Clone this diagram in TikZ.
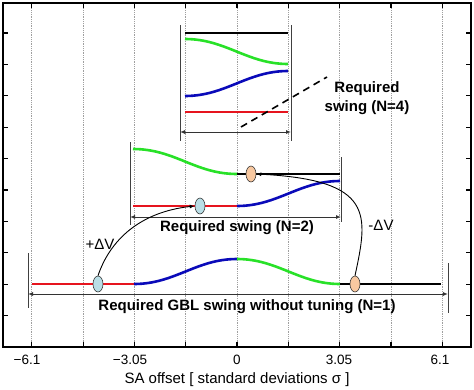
\documentclass[tikz,border=0pt]{standalone}
\usepackage{fontspec}
\setmainfont{Liberation Sans}
\usetikzlibrary{shapes.geometric,arrows.meta}
\definecolor{cgreen}{RGB}{40,225,40}
\definecolor{cblue}{RGB}{10,10,185}
\definecolor{cred}{RGB}{230,20,30}
\definecolor{lblue}{RGB}{185,222,230}
\definecolor{lorange}{RGB}{248,200,160}
\begin{document}
\begin{tikzpicture}[x=1pt,y=-1pt,
  gridline/.style={gray!75, densely dotted, line width=0.8pt},
  lvl/.style={line width=2.6pt},
  barline/.style={line width=0.8pt, black!75},
  spanline/.style={line width=1pt, black!80, {Latex[length=5pt,width=4pt]}-{Latex[length=5pt,width=4pt]}},
  lbl/.style={font=\bfseries\fontsize{15}{19}\selectfont, align=center},
  txt/.style={font=\fontsize{15}{18}\selectfont},
  ticklbl/.style={font=\fontsize{13.5}{16}\selectfont},
  bub/.style={ellipse, draw=black!80, line width=0.6pt, minimum width=10pt, minimum height=16pt, inner sep=0pt},
  conn/.style={line width=0.9pt, -{Latex[length=5pt,width=4pt]}}]
\useasboundingbox (0,0) rectangle (474,389);
% grid
\foreach \xx in {31.8,83.1,134.4,185.7,237,288.3,339.6,390.9,442.2}{
  \draw[gridline] (\xx,3) -- (\xx,347);
  \draw[line width=1.2pt] (\xx,3) -- (\xx,8);
  \draw[line width=1.2pt] (\xx,347) -- (\xx,342);
}
\foreach \yy in {33,64.4,95.8,127.2,158.6,190,221.4,252.8,284.2,315.6}{
  \draw[line width=1.2pt] (3,\yy) -- (8,\yy);
  \draw[line width=1.2pt] (471,\yy) -- (466,\yy);
}
\draw[line width=2pt] (3,3) rectangle (471,347);
% tick labels
\node[ticklbl] (t1) at (27,360) {−6.1};
\node[ticklbl] (t2) at (130,360) {−3.05};
\node[ticklbl] (t3) at (237,360) {0};
\node[ticklbl] (t4) at (339,360) {3.05};
\node[ticklbl] (t5) at (440,360) {6.1};
\node[txt] (xl) at (237,380) {SA offset [ standard deviations σ ]};

% ---- N=4 ----
\draw[lvl] (185,33) -- (288,33);
\draw[lvl,cgreen] (185,39) .. controls (226,39) and (247,64) .. (288,64);
\draw[lvl,cblue] (185,96) .. controls (226,96) and (247,71) .. (288,71);
\draw[lvl,cred] (185,112) -- (288,112);
\coordinate (a4t) at (180,25); \coordinate (a4b) at (180,141);
\coordinate (b4t) at (291,25); \coordinate (b4b) at (291,141);
\draw[barline] (a4t) -- (a4b);
\draw[barline] (b4t) -- (b4b);
\coordinate (s4l) at (180,132); \coordinate (s4r) at (291,132);
\draw[spanline] (s4l) -- (s4r);
\coordinate (d1) at (241,127); \coordinate (d2) at (327,77);
\draw[line width=1.6pt, dashed, dash pattern=on 7pt off 5pt] (d1) -- (d2);
\node[lbl] (l4) at (367,98) {Required\\swing (N=4)};

% ---- N=2 ----
\draw[lvl,cgreen] (133,149) .. controls (175,149) and (195,174) .. (237,174);
\draw[lvl] (237,174) -- (340,174);
\draw[lvl,cred] (133,206) -- (237,206);
\draw[lvl,cblue] (237,206) .. controls (278,206) and (299,181) .. (340,181);
\coordinate (a2t) at (130,142); \coordinate (a2b) at (130,225);
\coordinate (b2t) at (341,157); \coordinate (b2b) at (341,222);
\draw[barline] (a2t) -- (a2b);
\draw[barline] (b2t) -- (b2b);
\coordinate (s2l) at (130,217); \coordinate (s2r) at (341,217);
\draw[spanline] (s2l) -- (s2r);
\node[bub, fill=lorange] (or2) at (251,174) {};
\node[bub, fill=lblue] (lb2) at (200,206) {};
\node[lbl] (l2) at (237,228) {Required swing (N=2)};

% ---- N=1 ----
\draw[lvl,cred] (32,284) -- (134,284);
\draw[lvl,cblue] (134,284) .. controls (175,284) and (196,259) .. (237,259);
\draw[lvl,cgreen] (237,259) .. controls (278,259) and (299,284) .. (340,284);
\draw[lvl] (340,284) -- (441,284);
\coordinate (a1t) at (28,253); \coordinate (a1b) at (28,308);
\coordinate (b1t) at (448,263); \coordinate (b1b) at (448,313);
\draw[barline] (a1t) -- (a1b);
\draw[barline] (b1t) -- (b1b);
\coordinate (s1l) at (28,294); \coordinate (s1r) at (448,294);
\draw[spanline] (s1l) -- (s1r);
\node[bub, fill=lblue] (lb1) at (98,284) {};
\node[bub, fill=lorange] (or1) at (355,284) {};
\node[lbl] (l1) at (247,307) {Required GBL swing without tuning (N=1)};

% ---- connectors ----
\draw[conn] (lb1.north) .. controls (110,240) and (140,212) .. (lb2.west);
\draw[conn] (or1.north) .. controls (368,215) and (375,180) .. (or2.east);
\node[txt] (pv) at (100,244) {+ΔV};
\node[txt] (mv) at (381,225) {-ΔV};
\end{tikzpicture}
\end{document}
